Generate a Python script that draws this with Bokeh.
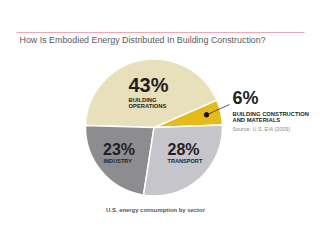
import math
from bokeh.plotting import figure
from bokeh.models import ColumnDataSource, Range1d
from bokeh.core.properties import value
from bokeh.embed import file_html
from bokeh.resources import INLINE

# data
sectors = ["BUILDING CONSTRUCTION AND MATERIALS", "BUILDING OPERATIONS", "INDUSTRY", "TRANSPORT"]
shares = [6, 43, 23, 28]
colors = ["#e5bb1c", "#e8dfbb", "#8d8c8f", "#c7c5cc"]
title_text = "How Is Embodied Energy Distributed In Building Construction?"
caption_text = "U.S. energy consumption by sector"
source_text = "Source: U.S. EIA (2009)"

W, H = 320, 240
def Y(py):
    return H - py

p = figure(width=W, height=H, output_backend="svg", toolbar_location=None,
           x_range=Range1d(0, W), y_range=Range1d(0, H), min_border=0)
p.axis.visible = False
p.grid.visible = False
p.outline_line_color = None
p.background_fill_color = "white"
p.border_fill_color = "white"

# pie
start0 = math.radians(2)
total = sum(shares)
starts, ends = [], []
acc = start0
for s in shares:
    starts.append(acc)
    acc += s / total * 2 * math.pi
    ends.append(acc)
src = ColumnDataSource(dict(sector=sectors, share=shares, color=colors, start=starts, end=ends))
cx, cy, r = 153.5, Y(127), 68.5
p.wedge(x=cx, y=cy, radius=r, start_angle="start", end_angle="end", color="color",
        line_color="white", line_width=1.5, source=src)

# header line and title
p.segment(x0=16, y0=Y(32), x1=304, y1=Y(32), line_color="#f0a6b4", line_width=1.2)

def lbl(x, py, t, size, bold=True, color="#231f20", align="left"):
    s = float(size.replace("px", ""))
    p.text(x=[x], y=[Y(py - 0.4 * s)], text=[t], text_font=value("Liberation Sans"),
           text_font_size=size, text_font_style="bold" if bold else "normal",
           text_color=color, text_baseline="alphabetic", text_align=align)

lbl(19, 43, title_text, "8.9px", bold=False, color="#5a5a5a")

lbl(128, 92, f"{shares[1]}%", "20px")
lbl(128, 101.5, "BUILDING", "5.8px")
lbl(128, 107.5, "OPERATIONS", "5.8px")
lbl(102.5, 155, f"{shares[2]}%", "16px")
lbl(103, 162.5, sectors[2], "5.6px")
lbl(167, 155, f"{shares[3]}%", "16px")
lbl(167, 162.5, sectors[3], "5.6px")
lbl(232, 105, f"{shares[0]}%", "18px")
lbl(232, 115.5, "BUILDING CONSTRUCTION", "5.8px")
lbl(232, 121.5, "AND MATERIALS", "5.8px")
lbl(232, 131, source_text, "5.4px", bold=False, color="#8a8a8a")

# pointer
p.segment(x0=206, y0=Y(114.3), x1=229, y1=Y(104), line_color="#333333", line_width=0.8)
p.scatter(x=[206], y=[Y(114.3)], size=4.5, color="#111111")

# caption
lbl(155, 211.5, caption_text, "5.9px", color="#555555", align="center")

open("out.html", "w").write(file_html(p, INLINE))
